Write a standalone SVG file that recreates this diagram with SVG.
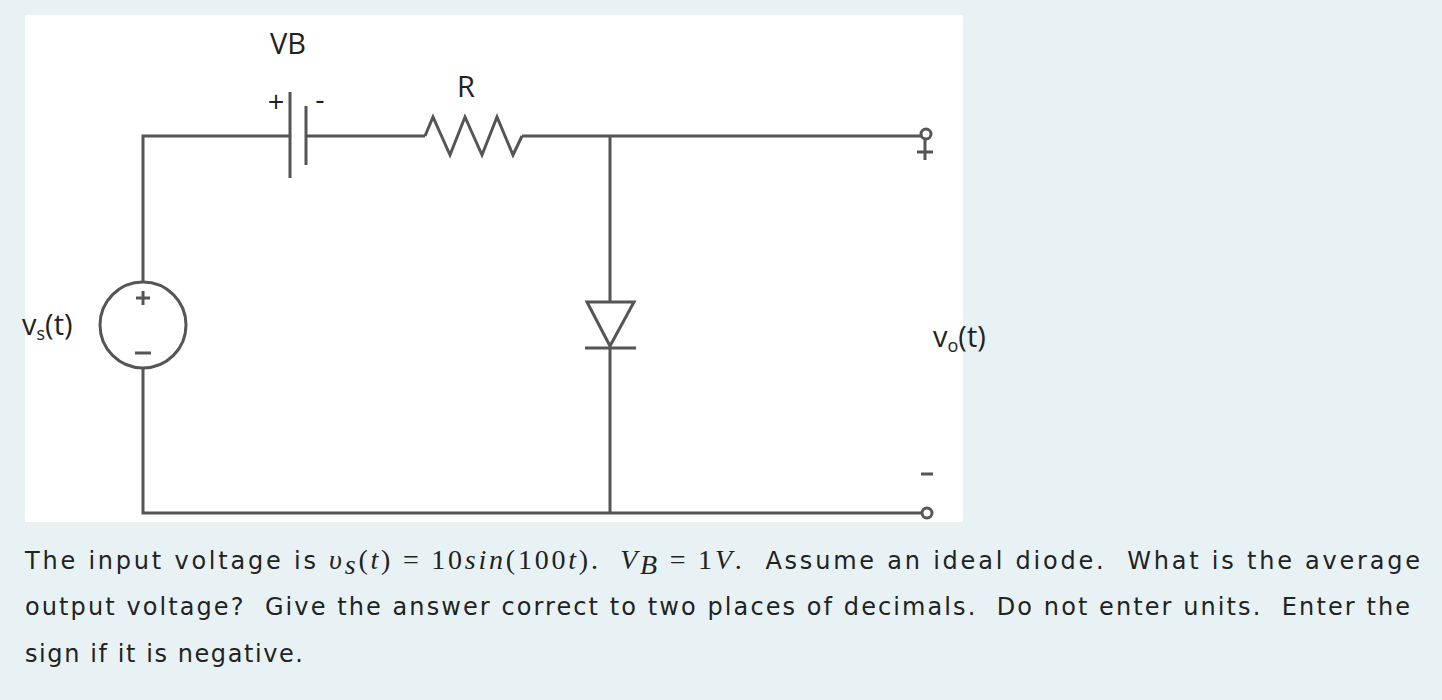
<svg xmlns="http://www.w3.org/2000/svg" width="1442" height="700" viewBox="0 0 1442 700">
<style>
.w{stroke:#555;stroke-width:3;fill:none}
.l{font-family:"Open Sans","DejaVu Sans",sans-serif;fill:#222;font-size:29px}
.t{font-family:"DejaVu Sans",sans-serif;fill:#222;font-size:24px;white-space:pre}
.m{font-family:"Liberation Serif",serif;font-size:28px}
.i{font-style:italic}
</style>
<rect width="1442" height="700" fill="#e8f2f5"/>
<rect x="25" y="15" width="938" height="507" fill="#fff"/>
<g id="connectors">
<path class="w" d="M143 282V136H290M306 136H425M522 136H921M610 136V302M610 348V513M143 368V513H921"/>
</g>
<g id="battery">
<path class="w" d="M290 92V178M306 106V165"/>
<text class="l" x="288" y="54" text-anchor="middle">VB</text>
<text class="l" x="276" y="112" text-anchor="middle" font-size="20">+</text>
<text class="l" x="320" y="110" text-anchor="middle" font-size="20">-</text>
</g>
<g id="resistor">
<path class="w" d="M425 136L433 117L450 155L465 117L482 155L497 117L513 155L522 136"/>
<text class="l" x="466" y="97" text-anchor="middle">R</text>
</g>
<g id="source">
<circle class="w" cx="143" cy="325" r="43"/>
<path class="w" d="M136 298H150M143 291V305M135 353H151"/>
<text class="l" x="22" y="335">v<tspan font-size="18" dy="5">s</tspan><tspan dy="-5">(t)</tspan></text>
</g>
<g id="diode">
<path class="w" d="M587 302H634L610 346ZM585 348H636"/>
</g>
<g id="output">
<circle class="w" cx="926" cy="134" r="5" fill="#fff"/>
<path class="w" d="M925 139V160M917 152H933M921 474H933"/>
<circle class="w" cx="927" cy="513" r="5" fill="#fff"/>
<text class="l" x="933" y="347">v<tspan font-size="18" dy="5">o</tspan><tspan dy="-5">(t)</tspan></text>
</g>
<text class="t" x="25" y="569" textLength="1395" lengthAdjust="spacing">The input voltage is <tspan class="m i">υ</tspan><tspan class="m i" font-size="19" dy="5">s</tspan><tspan class="m" dy="-5">(</tspan><tspan class="m i">t</tspan><tspan class="m">) = 10</tspan><tspan class="m i">sin</tspan><tspan class="m">(100</tspan><tspan class="m i">t</tspan><tspan class="m">).  </tspan><tspan class="m i">V</tspan><tspan class="m i" font-size="19" dy="5">B</tspan><tspan class="m" dy="-5"> = 1</tspan><tspan class="m i">V</tspan><tspan class="m">.</tspan>  Assume an ideal diode.  What is the average</text>
<text class="t" x="25" y="615" textLength="1385" lengthAdjust="spacing">output voltage?  Give the answer correct to two places of decimals.  Do not enter units.  Enter the</text>
<text class="t" x="25" y="662" textLength="278" lengthAdjust="spacing">sign if it is negative.</text>
</svg>
